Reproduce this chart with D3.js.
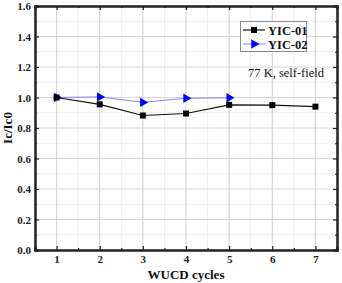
<!DOCTYPE html>
<html><head><meta charset="utf-8">
<script src="https://cdn.jsdelivr.net/npm/d3@7"></script>
<style>body{margin:0;background:#fff}svg{display:block}</style>
</head><body>
<script>
const cycles = [1,2,3,4,5,6,7];
const yic01 = [1.0, 0.955, 0.882, 0.895, 0.952, 0.950, 0.940];
const cycles02 = [1,2,3,4,5];
const yic02 = [1.0, 1.004, 0.968, 0.995, 0.998];
const xTicks = [1,2,3,4,5,6,7];
const yTicks = [0,0.2,0.4,0.6,0.8,1.0,1.2,1.4,1.6];
const seriesNames = ["YIC-01","YIC-02"];
const annotation = "77 K, self-field";

const W=342,H=283;
const m={l:35,r:5,t:6,b:33};
const svg=d3.select("body").append("svg").attr("width",W).attr("height",H);
const x=d3.scaleLinear().domain([0.5,7.5]).range([m.l,W-m.r]);
const y=d3.scaleLinear().domain([0,1.6]).range([H-m.b,m.t]);
const font="'Liberation Serif','Times New Roman',serif";

// minor grid
const xMinor=d3.range(0.5,7.51,0.5).filter(v=>!Number.isInteger(v));
const yMinor=d3.range(0.1,1.6,0.2);
const g=svg.append("g");
g.selectAll(".xm").data(xMinor).enter().append("line")
 .attr("x1",d=>x(d)).attr("x2",d=>x(d)).attr("y1",y(0)).attr("y2",y(1.6))
 .attr("stroke","#eeeeee").attr("stroke-width",1);
g.selectAll(".ym").data(yMinor).enter().append("line")
 .attr("y1",d=>y(d)).attr("y2",d=>y(d)).attr("x1",x(0.5)).attr("x2",x(7.5))
 .attr("stroke","#eeeeee").attr("stroke-width",1);
g.selectAll(".xg").data(xTicks).enter().append("line")
 .attr("x1",d=>x(d)).attr("x2",d=>x(d)).attr("y1",y(0)).attr("y2",y(1.6))
 .attr("stroke","#d6d6d6").attr("stroke-width",1.2);
g.selectAll(".yg").data(yTicks).enter().append("line")
 .attr("y1",d=>y(d)).attr("y2",d=>y(d)).attr("x1",x(0.5)).attr("x2",x(7.5))
 .attr("stroke","#d6d6d6").attr("stroke-width",1.2);

// axes (ticks inward)
const fmt=d3.format(".1f");
svg.append("g").attr("transform",`translate(0,${y(0)})`)
 .call(d3.axisBottom(x).tickValues(xTicks).tickSize(-4).tickPadding(5).tickFormat(d3.format("d")));
svg.append("g").attr("transform",`translate(0,${y(0)})`)
 .call(d3.axisBottom(x).tickValues(xMinor).tickSize(-2).tickFormat(""));
svg.append("g").attr("transform",`translate(0,${y(1.6)})`)
 .call(d3.axisTop(x).tickValues(xTicks).tickSize(-4).tickFormat(""));
svg.append("g").attr("transform",`translate(0,${y(1.6)})`)
 .call(d3.axisTop(x).tickValues(xMinor).tickSize(-2).tickFormat(""));
svg.append("g").attr("transform",`translate(${x(0.5)},0)`)
 .call(d3.axisLeft(y).tickValues(yTicks).tickSize(-4).tickPadding(4).tickFormat(fmt));
svg.append("g").attr("transform",`translate(${x(0.5)},0)`)
 .call(d3.axisLeft(y).tickValues(yMinor).tickSize(-2).tickFormat(""));
svg.append("g").attr("transform",`translate(${x(7.5)},0)`)
 .call(d3.axisRight(y).tickValues(yTicks).tickSize(-4).tickFormat(""));
svg.append("g").attr("transform",`translate(${x(7.5)},0)`)
 .call(d3.axisRight(y).tickValues(yMinor).tickSize(-2).tickFormat(""));
svg.selectAll(".domain").attr("stroke","#222").attr("stroke-width",2);
svg.selectAll(".tick line").attr("stroke","#222").attr("stroke-width",1.2);
svg.selectAll(".tick text").attr("font-family",font).attr("font-weight","bold")
 .attr("font-size",11).attr("fill","#222");

// lines
const line=d3.line().x(d=>x(d[0])).y(d=>y(d[1]));
const d02=cycles02.map((c,i)=>[c,yic02[i]]);
const d01=cycles.map((c,i)=>[c,yic01[i]]);
svg.append("path").datum(d02).attr("d",line).attr("fill","none")
 .attr("stroke","#8080ff").attr("stroke-width",1);
svg.append("path").datum(d01).attr("d",line).attr("fill","none")
 .attr("stroke","#111").attr("stroke-width",1.2);
const tri=d3.symbol().type(d3.symbolTriangle).size(38);
svg.selectAll(".t").data(d02).enter().append("path").attr("d",tri)
 .attr("transform",d=>`translate(${x(d[0])},${y(d[1])}) rotate(90)`).attr("fill","#0000ff");
svg.selectAll(".s").data(d01).enter().append("rect")
 .attr("x",d=>x(d[0])-3).attr("y",d=>y(d[1])-3).attr("width",6).attr("height",6).attr("fill","#000");

// legend
const lg=svg.append("g");
lg.append("rect").attr("x",240.5).attr("y",21.5).attr("width",66).attr("height",30)
 .attr("fill","#fff").attr("stroke","#888").attr("stroke-width",1);
lg.append("line").attr("x1",243).attr("x2",265).attr("y1",30).attr("y2",30).attr("stroke","#111").attr("stroke-width",1.2);
lg.append("rect").attr("x",251).attr("y",27).attr("width",6).attr("height",6).attr("fill","#000");
lg.append("line").attr("x1",243).attr("x2",265).attr("y1",44).attr("y2",44).attr("stroke","#8080ff").attr("stroke-width",1);
lg.append("path").attr("d",tri).attr("transform","translate(254,44) rotate(90)").attr("fill","#0000ff");
lg.selectAll(".lt").data(seriesNames).enter().append("text")
 .attr("x",268).attr("y",(d,i)=>34.5+i*14).text(d=>d)
 .attr("font-family",font).attr("font-weight","bold").attr("font-size",12.5).attr("fill","#111");

svg.append("text").attr("x",248).attr("y",77).text(annotation)
 .attr("font-family",font).attr("font-size",12.5).attr("fill","#111");

svg.append("text").attr("x",(x(0.5)+x(7.5))/2).attr("y",279).attr("text-anchor","middle")
 .text("WUCD cycles").attr("font-family",font).attr("font-weight","bold").attr("font-size",13).attr("fill","#111");
svg.append("text").attr("transform",`translate(12,${(y(0)+y(1.6))/2}) rotate(-90)`)
 .attr("text-anchor","middle").text("Ic/Ic0").attr("font-family",font).attr("font-weight","bold").attr("font-size",13).attr("fill","#111");
</script>
</body></html>
